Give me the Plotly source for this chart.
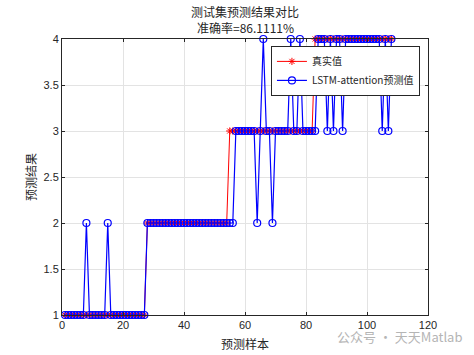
import plotly.graph_objects as go

samples = list(range(1, 109))
true_vals = [
    1, 1, 1, 1, 1, 1, 1, 1, 1, 1, 1, 1, 1, 1, 1, 1, 1, 1, 1, 1, 1, 1, 1, 1, 1, 1, 1,
    2, 2, 2, 2, 2, 2, 2, 2, 2, 2, 2, 2, 2, 2, 2, 2, 2, 2, 2, 2, 2, 2, 2, 2, 2, 2, 2,
    3, 3, 3, 3, 3, 3, 3, 3, 3, 3, 3, 3, 3, 3, 3, 3, 3, 3, 3, 3, 3, 3, 3, 3, 3, 3, 3, 3,
    4, 4, 4, 4, 4, 4, 4, 4, 4, 4, 4, 4, 4, 4, 4, 4, 4, 4, 4, 4, 4, 4, 4, 4, 4, 4,
]
pred_vals = [
    1, 1, 1, 1, 1, 1, 1, 2, 1, 1, 1, 1, 1, 1, 2, 1, 1, 1, 1, 1, 1, 1, 1, 1, 1, 1, 1,
    2, 2, 2, 2, 2, 2, 2, 2, 2, 2, 2, 2, 2, 2, 2, 2, 2, 2, 2, 2, 2, 2, 2, 2, 2, 2, 2,
    2, 2, 3, 3, 3, 3, 3, 3, 3, 2, 3, 4, 3, 3, 2, 3, 3, 3, 3, 3, 4, 3, 3, 4, 3, 3, 3, 3,
    3, 4, 4, 4, 3, 4, 3, 4, 4, 3, 4, 4, 4, 4, 4, 4, 4, 4, 4, 4, 4, 4, 3, 4, 3, 4,
]
x_ticks = [0, 20, 40, 60, 80, 100, 120]
y_ticks = [1, 1.5, 2, 2.5, 3, 3.5, 4]
accuracy = 86.1111

AX = "#262626"
CJK = "Noto Sans CJK SC"
LAT = "Liberation Sans, Arial, sans-serif"

fig = go.Figure()
fig.add_trace(go.Scatter(
    x=samples, y=true_vals, mode="lines+markers", name="真实值",
    line=dict(color="#ff0000", width=1),
    marker=dict(symbol="asterisk-open", size=6, color="#ff0000",
                line=dict(color="#ff0000", width=1)),
    cliponaxis=False,
))
fig.add_trace(go.Scatter(
    x=samples, y=pred_vals, mode="lines+markers", name="LSTM-attention预测值",
    line=dict(color="#0000ff", width=1.2),
    marker=dict(symbol="circle-open", size=7, color="#0000ff",
                line=dict(color="#0000ff", width=1.2)),
    cliponaxis=False,
))

axis_common = dict(
    showline=True, linecolor=AX, linewidth=1, mirror="ticks",
    ticks="inside", ticklen=3, tickcolor=AX,
    showgrid=True, gridcolor="#e3e3e3", gridwidth=1, zeroline=False,
    tickfont=dict(family=LAT, size=11, color=AX),
)
fig.update_xaxes(range=[0, 120], tickvals=x_ticks, ticktext=[str(v) for v in x_ticks],
                 **axis_common)
fig.update_yaxes(range=[1, 4], tickvals=y_ticks, ticktext=[f"{v:g}" for v in y_ticks],
                 **axis_common)

fig.update_layout(
    width=474, height=355,
    margin=dict(l=62, r=46, t=39, b=40),
    paper_bgcolor="white", plot_bgcolor="white",
    showlegend=True,
    legend=dict(
        x=0.978, xanchor="right", y=0.975, yanchor="top",
        bgcolor="white", bordercolor=AX, borderwidth=1,
        font=dict(family=CJK + ", " + LAT, size=10, color=AX),
        tracegroupgap=0, itemwidth=30,
    ),
    annotations=[
        dict(text="测试集预测结果对比", xref="paper", yref="paper", x=0.5, y=1,
             yanchor="middle", yshift=28, showarrow=False,
             font=dict(family=CJK, size=12, color=AX)),
        dict(text=f"准确率={accuracy:.4f}%", xref="paper", yref="paper", x=0.5, y=1,
             yanchor="middle", yshift=12, showarrow=False,
             font=dict(family=CJK, size=12, color=AX)),
        dict(text="预测样本", xref="paper", yref="paper", x=0.5, y=0,
             yanchor="middle", yshift=-28, showarrow=False,
             font=dict(family=CJK, size=12, color=AX)),
        dict(text="预测结果", xref="paper", yref="paper", x=0, xshift=-32, y=0.5,
             xanchor="center", yanchor="middle", textangle=-90, showarrow=False,
             font=dict(family=CJK, size=12, color=AX)),
        dict(text="公众号 · 天天Matlab", xref="paper", yref="paper", x=1, xshift=36,
             xanchor="right", y=0, yanchor="middle", yshift=-21, showarrow=False,
             font=dict(family=CJK, size=13, color="#b5b5b5")),
    ],
)

# remove the browser's default 8px page margin so the figure fills the window
fig.write_html("out.html", config={"displayModeBar": False},
               post_script="document.body.style.margin='0';")
